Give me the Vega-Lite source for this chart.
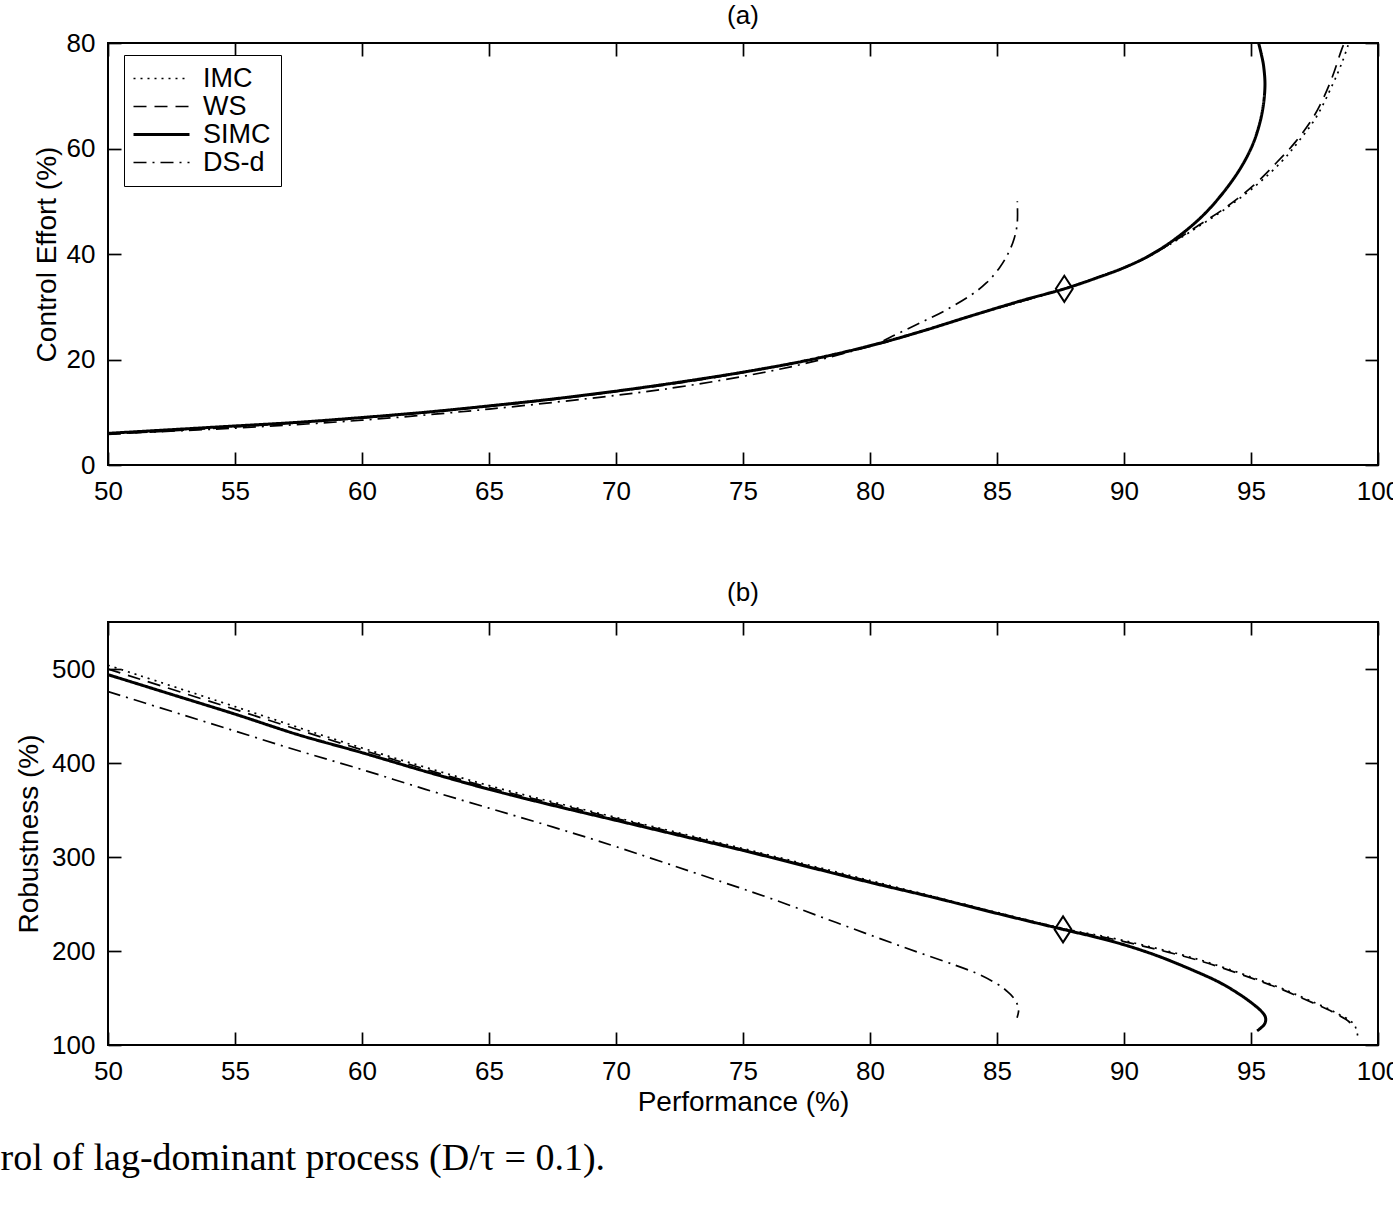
{
  "$schema": "https://vega.github.io/schema/vega-lite/v6.json",
  "padding": {"left": 0, "top": 2, "right": -6, "bottom": 0},
  "config": {
    "font": "Liberation Sans",
    "view": {"stroke": "black", "strokeWidth": 2},
    "axis": {"domain": false, "grid": false, "labelFlush": false, "tickColor": "black", "tickSize": -13, "tickWidth": 1.7, "labelFont": "Liberation Sans", "labelFontSize": 26, "labelColor": "black", "labelPadding": 26, "titleFont": "Liberation Sans", "titleFontSize": 28, "titleFontWeight": "normal", "titleColor": "black", "titlePadding": 10},
    "title": {"font": "Liberation Sans", "fontSize": 26, "fontWeight": "normal", "color": "black"}
  },
  "title": {"text": "rol of lag-dominant process (D/τ = 0.1).", "orient": "bottom", "anchor": "start", "font": "Liberation Serif", "fontSize": 38, "fontWeight": "normal", "offset": 23, "dx": -14},
  "spacing": 74,
  "resolve": {"scale": {"strokeDash": "independent"}, "legend": {"strokeDash": "independent"}},
  "vconcat": [
    {
      "title": {"text": "(a)", "offset": 1},
      "width": 1270,
      "height": 422,
      "data": {"values": [
        {"s": "IMC", "p": 50, "v": 5.9}, {"s": "IMC", "p": 55, "v": 7.3}, {"s": "IMC", "p": 60, "v": 9.0}, {"s": "IMC", "p": 65, "v": 11.2}, {"s": "IMC", "p": 70, "v": 14.0}, {"s": "IMC", "p": 75, "v": 17.6}, {"s": "IMC", "p": 80, "v": 22.6}, {"s": "IMC", "p": 84, "v": 28.3}, {"s": "IMC", "p": 87.65, "v": 33.4}, {"s": "IMC", "p": 90, "v": 37.4}, {"s": "IMC", "p": 91, "v": 39.6}, {"s": "IMC", "p": 92, "v": 42.4}, {"s": "IMC", "p": 92.8, "v": 44.8}, {"s": "IMC", "p": 94, "v": 48.6}, {"s": "IMC", "p": 95.2, "v": 53.0}, {"s": "IMC", "p": 96.2, "v": 57.5}, {"s": "IMC", "p": 96.9, "v": 61.5}, {"s": "IMC", "p": 97.6, "v": 66.2}, {"s": "IMC", "p": 98.2, "v": 72.0}, {"s": "IMC", "p": 98.6, "v": 76.5}, {"s": "IMC", "p": 98.85, "v": 80},
        {"s": "WS", "p": 50, "v": 5.8}, {"s": "WS", "p": 55, "v": 7.2}, {"s": "WS", "p": 60, "v": 8.9}, {"s": "WS", "p": 65, "v": 11.1}, {"s": "WS", "p": 70, "v": 13.9}, {"s": "WS", "p": 75, "v": 17.5}, {"s": "WS", "p": 80, "v": 22.5}, {"s": "WS", "p": 84, "v": 28.3}, {"s": "WS", "p": 87.65, "v": 33.4}, {"s": "WS", "p": 90, "v": 37.4}, {"s": "WS", "p": 91, "v": 39.6}, {"s": "WS", "p": 92, "v": 42.5}, {"s": "WS", "p": 92.7, "v": 44.7}, {"s": "WS", "p": 94, "v": 48.8}, {"s": "WS", "p": 95.1, "v": 53.0}, {"s": "WS", "p": 96.0, "v": 57.3}, {"s": "WS", "p": 96.76, "v": 61.3}, {"s": "WS", "p": 97.5, "v": 66.3}, {"s": "WS", "p": 98.1, "v": 72.3}, {"s": "WS", "p": 98.55, "v": 78.5}, {"s": "WS", "p": 98.68, "v": 80},
        {"s": "SIMC", "p": 50, "v": 6.0}, {"s": "SIMC", "p": 52.5, "v": 6.7}, {"s": "SIMC", "p": 55, "v": 7.4}, {"s": "SIMC", "p": 57.5, "v": 8.1}, {"s": "SIMC", "p": 60, "v": 9.0}, {"s": "SIMC", "p": 62.5, "v": 10.0}, {"s": "SIMC", "p": 65, "v": 11.2}, {"s": "SIMC", "p": 67.5, "v": 12.5}, {"s": "SIMC", "p": 70, "v": 14.0}, {"s": "SIMC", "p": 72.5, "v": 15.7}, {"s": "SIMC", "p": 75, "v": 17.6}, {"s": "SIMC", "p": 77.5, "v": 19.8}, {"s": "SIMC", "p": 80, "v": 22.6}, {"s": "SIMC", "p": 82, "v": 25.3}, {"s": "SIMC", "p": 84, "v": 28.3}, {"s": "SIMC", "p": 86, "v": 31.2}, {"s": "SIMC", "p": 87.65, "v": 33.4}, {"s": "SIMC", "p": 89, "v": 35.6}, {"s": "SIMC", "p": 90, "v": 37.4}, {"s": "SIMC", "p": 91, "v": 39.7}, {"s": "SIMC", "p": 92, "v": 42.8}, {"s": "SIMC", "p": 93, "v": 46.8}, {"s": "SIMC", "p": 93.8, "v": 51.0}, {"s": "SIMC", "p": 94.5, "v": 55.6}, {"s": "SIMC", "p": 95.0, "v": 60.0}, {"s": "SIMC", "p": 95.3, "v": 64.0}, {"s": "SIMC", "p": 95.48, "v": 68}, {"s": "SIMC", "p": 95.55, "v": 72}, {"s": "SIMC", "p": 95.5, "v": 75.5}, {"s": "SIMC", "p": 95.4, "v": 78}, {"s": "SIMC", "p": 95.3, "v": 80},
        {"s": "DS-d", "p": 50, "v": 5.9}, {"s": "DS-d", "p": 55, "v": 7.0}, {"s": "DS-d", "p": 60, "v": 8.5}, {"s": "DS-d", "p": 65, "v": 10.6}, {"s": "DS-d", "p": 70, "v": 13.2}, {"s": "DS-d", "p": 72.5, "v": 14.8}, {"s": "DS-d", "p": 75, "v": 16.8}, {"s": "DS-d", "p": 77.5, "v": 19.3}, {"s": "DS-d", "p": 80, "v": 22.6}, {"s": "DS-d", "p": 81, "v": 24.7}, {"s": "DS-d", "p": 82, "v": 27.0}, {"s": "DS-d", "p": 83, "v": 29.4}, {"s": "DS-d", "p": 84, "v": 32.3}, {"s": "DS-d", "p": 84.6, "v": 34.6}, {"s": "DS-d", "p": 85.1, "v": 37.4}, {"s": "DS-d", "p": 85.45, "v": 40.2}, {"s": "DS-d", "p": 85.68, "v": 43.0}, {"s": "DS-d", "p": 85.8, "v": 46}, {"s": "DS-d", "p": 85.8, "v": 50},
        {"s": "mk", "p": 87.65, "v": 33.4}
      ]},
      "layer": [
        {
          "transform": [{"filter": "datum.s != 'mk'"}],
          "mark": {"type": "line", "color": "black", "clip": true, "interpolate": "cardinal"},
          "encoding": {
            "x": {"field": "p", "type": "quantitative", "scale": {"domain": [50, 100], "nice": false, "zero": false}, "axis": {"title": null, "values": [50, 55, 60, 65, 70, 75, 80, 85, 90, 95, 100]}},
            "y": {"field": "v", "type": "quantitative", "scale": {"domain": [0, 80], "nice": false}, "axis": {"title": "Control Effort (%)", "titlePadding": 5, "values": [0, 20, 40, 60, 80]}},
            "order": {"value": null},
            "strokeWidth": {"condition": {"test": "datum.s == 'SIMC'", "value": 3}, "value": 1.7},
            "strokeDash": {
              "field": "s", "type": "nominal",
              "scale": {"domain": ["IMC", "WS", "SIMC", "DS-d"], "range": [[2, 5], [13, 8], [1, 0], [13, 6, 2, 6]]},
              "legend": {
                "orient": "none", "legendX": 16, "legendY": 12, "title": null,
                "strokeColor": "black", "fillColor": "white", "padding": 10,
                "labelFont": "Liberation Sans", "labelFontSize": 27, "labelColor": "black",
                "symbolType": "M-1,0H3", "symbolSize": 784, "symbolStrokeColor": "black", "symbolStrokeWidth": 1.7,
                "labelOffset": 42, "rowPadding": 0,
                "encode": {"symbols": {"update": {"strokeWidth": {"signal": "datum.label == 'SIMC' ? 3 : 1.7"}}}}
              }
            }
          }
        },
        {
          "transform": [{"filter": "datum.s == 'mk'"}],
          "mark": {"type": "point", "shape": "M0,-1L0.65,0L0,1L-0.65,0Z", "filled": false, "color": "black", "opacity": 1, "size": 676, "strokeWidth": 2},
          "encoding": {
            "x": {"field": "p", "type": "quantitative", "scale": {"domain": [50, 100], "nice": false, "zero": false}, "axis": {"orient": "top", "labels": false, "title": null, "values": [50, 55, 60, 65, 70, 75, 80, 85, 90, 95, 100]}},
            "y": {"field": "v", "type": "quantitative", "scale": {"domain": [0, 80], "nice": false}, "axis": {"orient": "right", "labels": false, "title": null, "values": [0, 20, 40, 60, 80]}}
          }
        }
      ],
      "resolve": {"axis": {"x": "independent", "y": "independent"}}
    },
    {
      "title": {"text": "(b)", "offset": 15},
      "width": 1270,
      "height": 423,
      "data": {"values": [
        {"s": "IMC", "p": 50, "v": 504}, {"s": "IMC", "p": 55, "v": 460}, {"s": "IMC", "p": 60, "v": 416}, {"s": "IMC", "p": 65, "v": 376}, {"s": "IMC", "p": 70, "v": 342}, {"s": "IMC", "p": 75, "v": 309}, {"s": "IMC", "p": 80, "v": 275}, {"s": "IMC", "p": 85, "v": 241}, {"s": "IMC", "p": 87.6, "v": 224}, {"s": "IMC", "p": 90, "v": 211}, {"s": "IMC", "p": 92.93, "v": 191}, {"s": "IMC", "p": 95.65, "v": 166}, {"s": "IMC", "p": 97, "v": 151}, {"s": "IMC", "p": 98, "v": 139}, {"s": "IMC", "p": 98.5, "v": 132}, {"s": "IMC", "p": 98.9, "v": 126}, {"s": "IMC", "p": 99.1, "v": 120}, {"s": "IMC", "p": 99.2, "v": 110},
        {"s": "WS", "p": 50, "v": 500}, {"s": "WS", "p": 55, "v": 457}, {"s": "WS", "p": 60, "v": 414}, {"s": "WS", "p": 65, "v": 374}, {"s": "WS", "p": 70, "v": 341}, {"s": "WS", "p": 75, "v": 308}, {"s": "WS", "p": 80, "v": 274}, {"s": "WS", "p": 85, "v": 240.5}, {"s": "WS", "p": 87.6, "v": 223.5}, {"s": "WS", "p": 90, "v": 210}, {"s": "WS", "p": 92.93, "v": 190}, {"s": "WS", "p": 95.65, "v": 165}, {"s": "WS", "p": 97, "v": 150}, {"s": "WS", "p": 98, "v": 138}, {"s": "WS", "p": 98.5, "v": 131}, {"s": "WS", "p": 98.85, "v": 125}, {"s": "WS", "p": 98.95, "v": 120}, {"s": "WS", "p": 98.9, "v": 117},
        {"s": "SIMC", "p": 50, "v": 494}, {"s": "SIMC", "p": 52.5, "v": 473}, {"s": "SIMC", "p": 55, "v": 452}, {"s": "SIMC", "p": 57.5, "v": 430}, {"s": "SIMC", "p": 60, "v": 411}, {"s": "SIMC", "p": 62.5, "v": 391}, {"s": "SIMC", "p": 65, "v": 372}, {"s": "SIMC", "p": 67.5, "v": 355}, {"s": "SIMC", "p": 70, "v": 339}, {"s": "SIMC", "p": 72.5, "v": 323}, {"s": "SIMC", "p": 75, "v": 307}, {"s": "SIMC", "p": 77.5, "v": 290}, {"s": "SIMC", "p": 80, "v": 273}, {"s": "SIMC", "p": 82.5, "v": 257}, {"s": "SIMC", "p": 85, "v": 240}, {"s": "SIMC", "p": 87.6, "v": 223}, {"s": "SIMC", "p": 89, "v": 214}, {"s": "SIMC", "p": 90.2, "v": 205}, {"s": "SIMC", "p": 91.5, "v": 193}, {"s": "SIMC", "p": 92.93, "v": 177}, {"s": "SIMC", "p": 93.8, "v": 166}, {"s": "SIMC", "p": 94.6, "v": 153}, {"s": "SIMC", "p": 95.2, "v": 141}, {"s": "SIMC", "p": 95.5, "v": 133}, {"s": "SIMC", "p": 95.58, "v": 127}, {"s": "SIMC", "p": 95.5, "v": 121}, {"s": "SIMC", "p": 95.24, "v": 115},
        {"s": "DS-d", "p": 50, "v": 476}, {"s": "DS-d", "p": 52.5, "v": 455}, {"s": "DS-d", "p": 55, "v": 434}, {"s": "DS-d", "p": 57.5, "v": 413}, {"s": "DS-d", "p": 60, "v": 393}, {"s": "DS-d", "p": 62.5, "v": 372}, {"s": "DS-d", "p": 65, "v": 352}, {"s": "DS-d", "p": 67.5, "v": 332}, {"s": "DS-d", "p": 70, "v": 311}, {"s": "DS-d", "p": 73.45, "v": 280}, {"s": "DS-d", "p": 76.08, "v": 256}, {"s": "DS-d", "p": 78.7, "v": 230}, {"s": "DS-d", "p": 81.33, "v": 204}, {"s": "DS-d", "p": 83.95, "v": 179}, {"s": "DS-d", "p": 85.0, "v": 165}, {"s": "DS-d", "p": 85.4, "v": 157}, {"s": "DS-d", "p": 85.66, "v": 150}, {"s": "DS-d", "p": 85.82, "v": 142}, {"s": "DS-d", "p": 85.85, "v": 136}, {"s": "DS-d", "p": 85.79, "v": 129},
        {"s": "mk", "p": 87.6, "v": 223}
      ]},
      "layer": [
        {
          "transform": [{"filter": "datum.s != 'mk'"}],
          "mark": {"type": "line", "color": "black", "clip": true, "interpolate": "cardinal"},
          "encoding": {
            "x": {"field": "p", "type": "quantitative", "scale": {"domain": [50, 100], "nice": false, "zero": false}, "axis": {"title": "Performance (%)", "titlePadding": 4, "values": [50, 55, 60, 65, 70, 75, 80, 85, 90, 95, 100]}},
            "y": {"field": "v", "type": "quantitative", "scale": {"domain": [100, 550], "nice": false, "zero": false}, "axis": {"title": "Robustness (%)", "titlePadding": 8, "values": [100, 200, 300, 400, 500]}},
            "order": {"value": null},
            "strokeWidth": {"condition": {"test": "datum.s == 'SIMC'", "value": 3}, "value": 1.7},
            "strokeDash": {"field": "s", "type": "nominal", "scale": {"domain": ["IMC", "WS", "SIMC", "DS-d"], "range": [[2, 5], [13, 8], [1, 0], [13, 6, 2, 6]]}, "legend": null}
          }
        },
        {
          "transform": [{"filter": "datum.s == 'mk'"}],
          "mark": {"type": "point", "shape": "M0,-1L0.65,0L0,1L-0.65,0Z", "filled": false, "color": "black", "opacity": 1, "size": 676, "strokeWidth": 2},
          "encoding": {
            "x": {"field": "p", "type": "quantitative", "scale": {"domain": [50, 100], "nice": false, "zero": false}, "axis": {"orient": "top", "labels": false, "title": null, "values": [50, 55, 60, 65, 70, 75, 80, 85, 90, 95, 100]}},
            "y": {"field": "v", "type": "quantitative", "scale": {"domain": [100, 550], "nice": false, "zero": false}, "axis": {"orient": "right", "labels": false, "title": null, "values": [100, 200, 300, 400, 500]}}
          }
        }
      ],
      "resolve": {"axis": {"x": "independent", "y": "independent"}}
    }
  ]
}
